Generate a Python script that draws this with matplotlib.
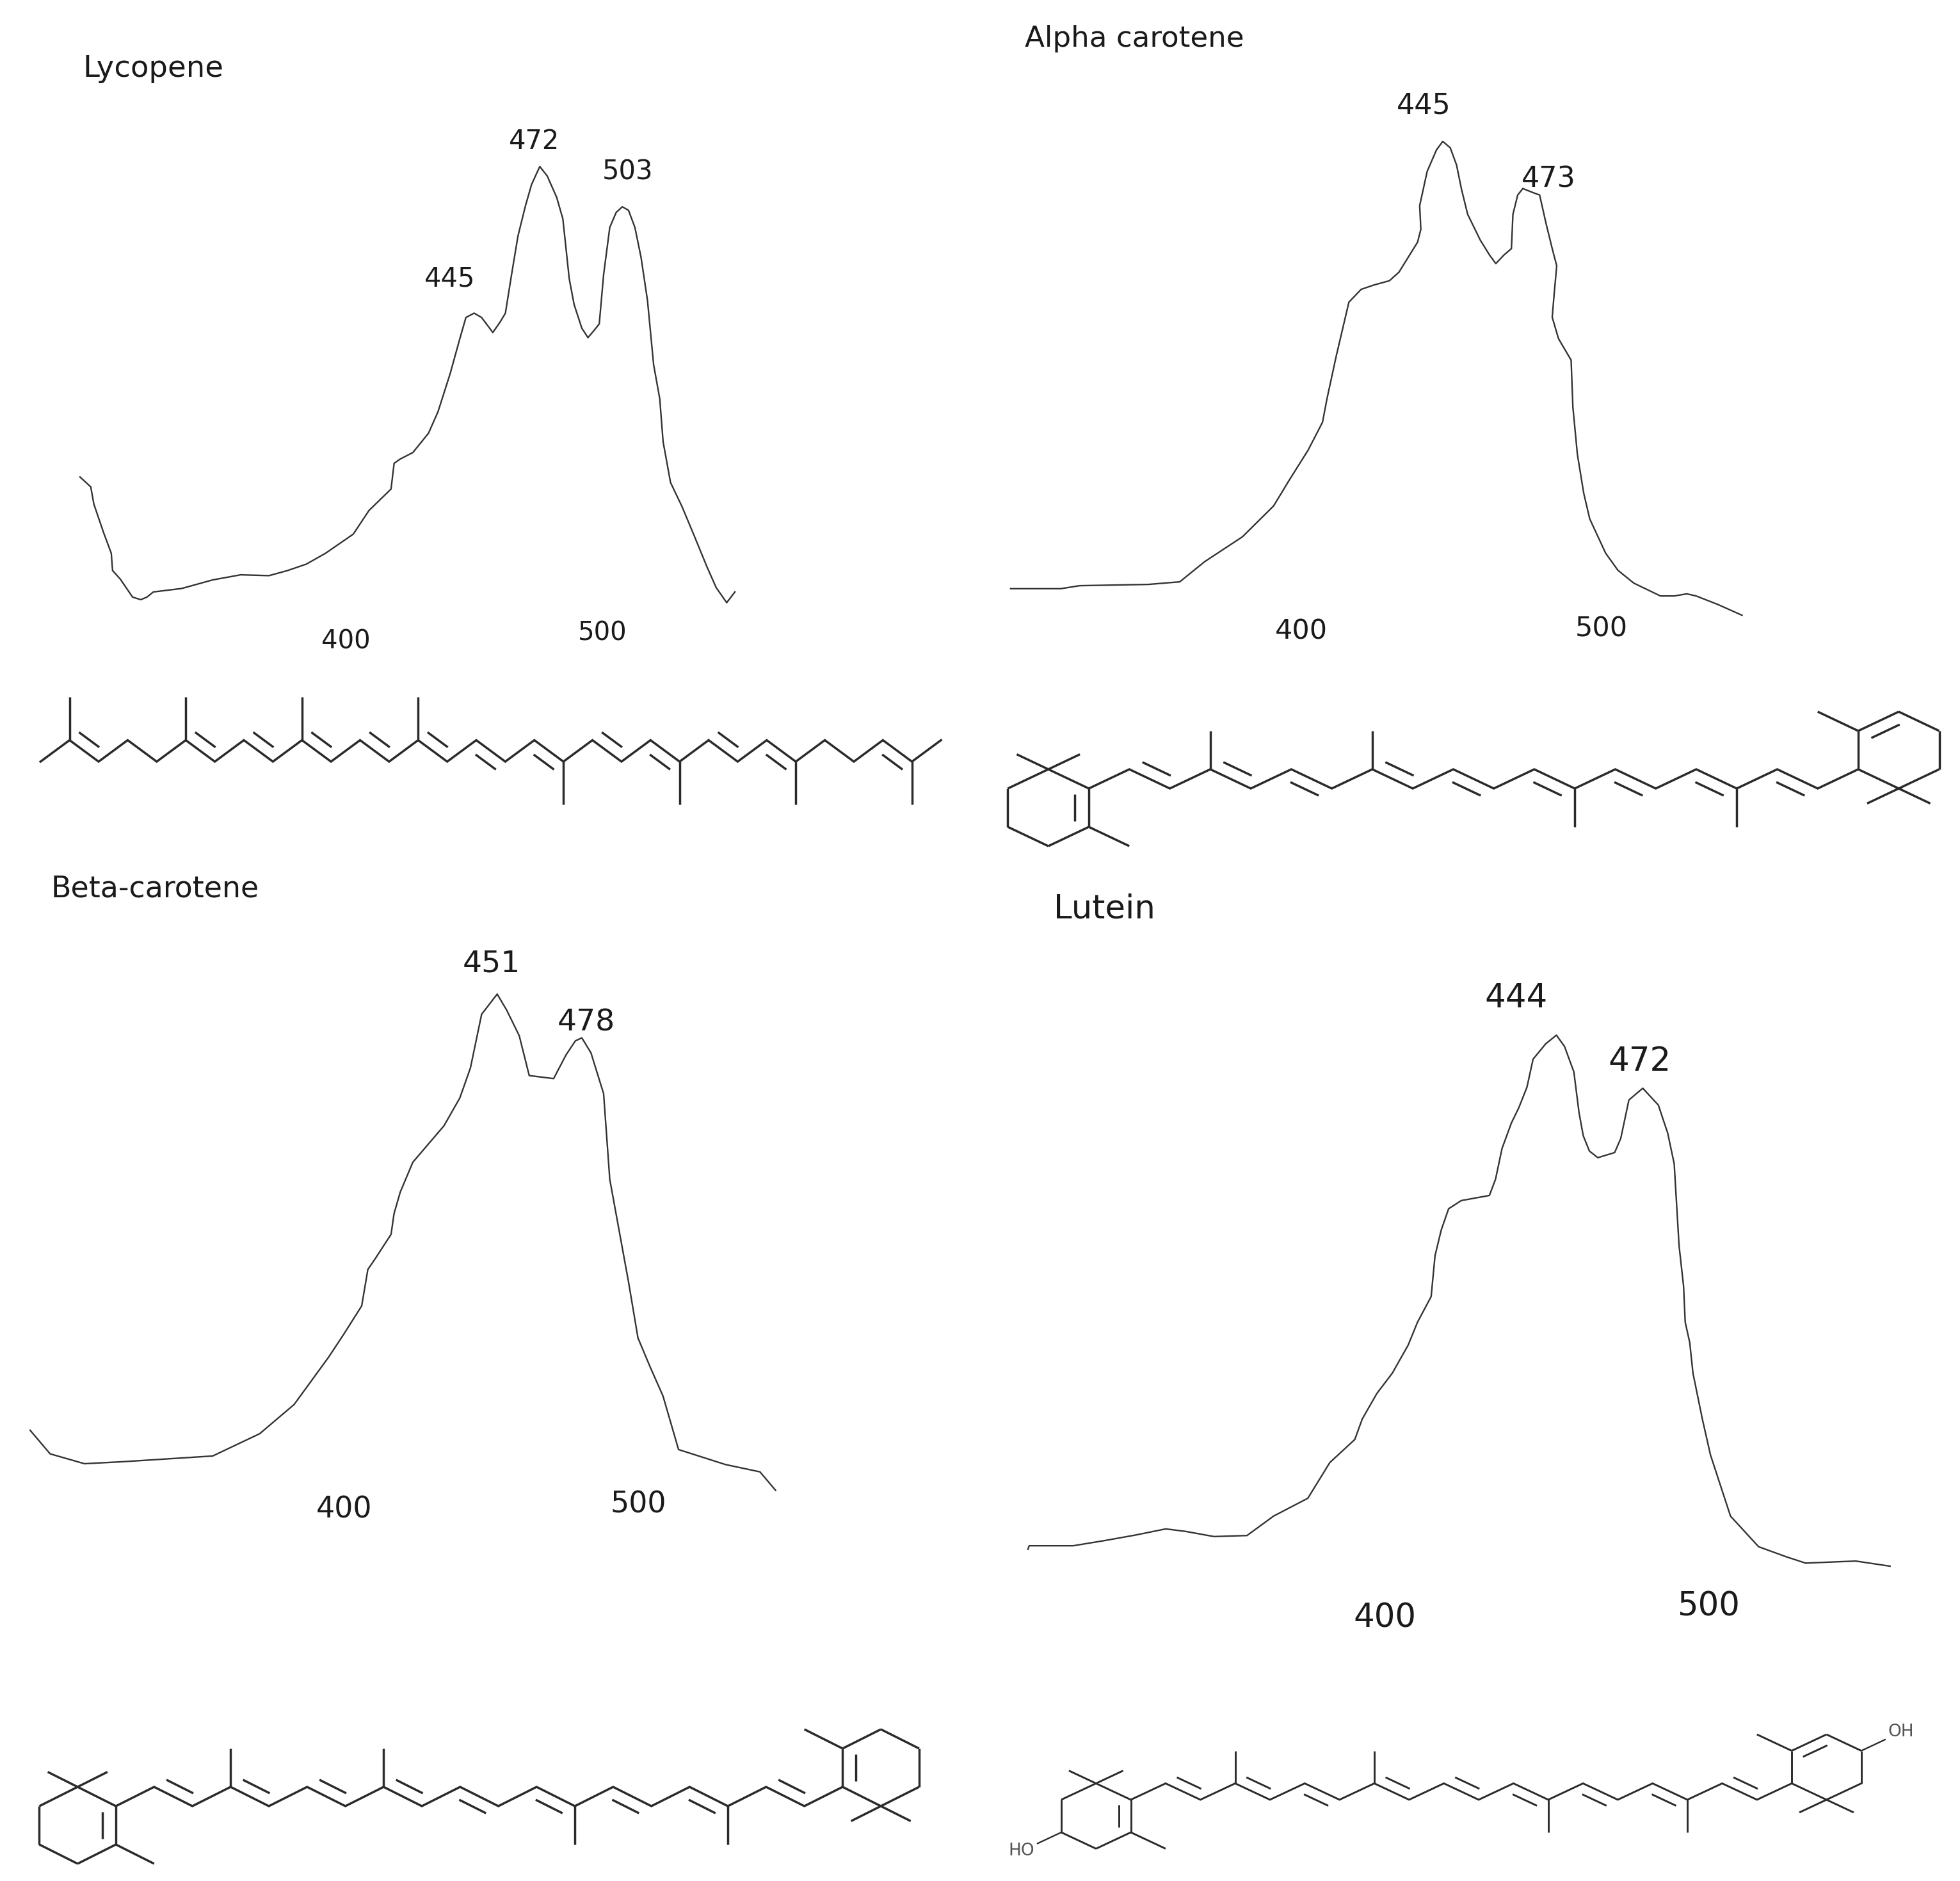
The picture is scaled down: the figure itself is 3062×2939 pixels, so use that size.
import numpy as np
import matplotlib
matplotlib.use("Agg")
import matplotlib.pyplot as plt

# ---- spectra: wavelength (nm) vs relative absorbance ----
lyc_wl = [296.3, 300.5, 301.7, 305.4, 308.5, 309.0, 312.0, 316.8, 320.0, 322.4, 324.9,
          335.9, 348.0, 359.0, 370.0, 377.3, 384.6, 392.0, 400.5, 402.9, 409.0, 417.6,
          418.8, 421.2, 426.1, 432.2, 435.9, 440.7, 444.4, 446.8, 450.0, 452.9, 457.3,
          460.2, 462.2, 464.6, 467.1, 470.0, 472.4, 475.6, 478.5, 482.2, 484.6, 487.1,
          489.0, 492.0, 494.4, 496.8, 498.8, 500.5, 502.9, 505.4, 507.8, 510.2, 512.7,
          515.1, 517.6, 520.0, 522.4, 523.7, 526.6, 531.0, 535.9, 540.7, 544.4, 548.5, 551.7]
lyc_abs = [0.288, 0.265, 0.225, 0.16, 0.11, 0.07, 0.05, 0.008, 0.002, 0.008, 0.02,
           0.028, 0.048, 0.06, 0.058, 0.07, 0.085, 0.11, 0.145, 0.155, 0.21, 0.26,
           0.32, 0.33, 0.345, 0.39, 0.44, 0.53, 0.61, 0.66, 0.67, 0.66, 0.625,
           0.65, 0.67, 0.76, 0.85, 0.92, 0.97, 1.012, 0.99, 0.94, 0.89, 0.75,
           0.69, 0.635, 0.613, 0.63, 0.645, 0.76, 0.87, 0.905, 0.918, 0.91, 0.87,
           0.80, 0.70, 0.55, 0.47, 0.37, 0.275, 0.22, 0.15, 0.08, 0.03, -0.005, 0.02]

alpha_wl = [303.1, 319.8, 326.1, 349.1, 359.5, 367.8, 380.4, 390.8, 396.0, 402.3, 407.1,
            408.6, 411.7, 415.9, 420.0, 424.2, 429.4, 432.6, 438.8, 439.9, 439.5, 442.0,
            445.1, 447.2, 449.7, 451.8, 453.4, 455.5, 459.7, 462.8, 464.9, 467.6, 470.1,
            470.6, 472.2, 473.9, 477.5, 479.5, 481.6, 483.7, 485.2, 484.3, 483.7, 485.8,
            490.0, 490.6, 492.1, 494.2, 496.2, 501.5, 505.6, 510.9, 519.8, 524.4, 528.6,
            531.7, 539.0, 547.0]
alpha_abs = [0.007, 0.007, 0.014, 0.017, 0.023, 0.07, 0.128, 0.2, 0.26, 0.33, 0.395,
             0.45, 0.55, 0.675, 0.705, 0.715, 0.725, 0.745, 0.815, 0.845, 0.90, 0.98,
             1.03, 1.05, 1.035, 0.995, 0.94, 0.88, 0.82, 0.785, 0.765, 0.785, 0.80,
             0.88, 0.925, 0.94, 0.93, 0.925, 0.86, 0.80, 0.76, 0.69, 0.64, 0.59,
             0.54, 0.43, 0.32, 0.23, 0.17, 0.09, 0.05, 0.02, -0.01, -0.01, -0.005,
             -0.01, -0.03, -0.055]

beta_wl = [293.2, 300.0, 311.7, 325.5, 355.3, 371.3, 383.0, 394.7, 400.0, 406.0, 408.1,
           410.6, 416.0, 417.0, 419.1, 423.4, 434.0, 439.4, 443.0, 446.8, 452.1, 455.3,
           459.6, 463.0, 471.3, 475.5, 478.7, 480.9, 484.0, 488.3, 490.4, 493.6, 496.8,
           500.0, 504.3, 508.5, 513.8, 529.8, 541.5, 546.8]
beta_abs = [0.065, 0.01, -0.013, -0.008, 0.005, 0.057, 0.125, 0.235, 0.29, 0.355, 0.44,
            0.465, 0.522, 0.57, 0.62, 0.69, 0.775, 0.84, 0.91, 1.035, 1.082, 1.045,
            0.985, 0.892, 0.885, 0.94, 0.973, 0.98, 0.945, 0.85, 0.65, 0.53, 0.41,
            0.28, 0.21, 0.145, 0.02, -0.015, -0.032, -0.075]

lut_wl = [289.7, 290.1, 303.7, 313.3, 323.0, 332.3, 338.5, 347.2, 357.4, 365.6, 376.2,
          383.0, 390.7, 393.0, 397.5, 402.3, 407.2, 410.1, 414.3, 415.5, 417.4, 419.7,
          423.6, 432.3, 434.2, 436.2, 439.1, 441.4, 443.9, 445.8, 449.7, 453.0, 455.5,
          458.4, 460.0, 461.3, 463.2, 465.8, 471.0, 472.9, 475.4, 479.7, 484.5, 487.4,
          489.4, 490.9, 492.3, 492.8, 494.2, 495.2, 498.1, 500.6, 506.8, 515.5, 524.2,
          530.0, 537.7, 545.5, 556.1]
lut_abs = [0.025, 0.032, 0.032, 0.042, 0.053, 0.065, 0.06, 0.05, 0.052, 0.09, 0.125,
           0.195, 0.24, 0.28, 0.33, 0.37, 0.425, 0.47, 0.52, 0.60, 0.65, 0.692,
           0.708, 0.718, 0.75, 0.81, 0.86, 0.89, 0.93, 0.985, 1.015, 1.032, 1.01,
           0.96, 0.88, 0.835, 0.805, 0.792, 0.802, 0.83, 0.905, 0.928, 0.895, 0.84,
           0.78, 0.62, 0.54, 0.47, 0.43, 0.37, 0.28, 0.21, 0.09, 0.03, 0.01,
           -0.002, 0.0, 0.002, -0.008]

titles = ["Lycopene", "Alpha carotene", "Beta-carotene", "Lutein"]
# peak labels: (text, wavelength, absorbance) where the number sits
lyc_peaks = [("472", 473.5, 1.07), ("503", 510.0, 1.0), ("445", 440.5, 0.75)]
alpha_peaks = [("445", 440.8, 1.134), ("473", 482.6, 0.962)]
beta_peaks = [("451", 450.2, 1.152), ("478", 482.3, 1.015)]
lut_peaks = [("444", 440.5, 1.104), ("472", 478.7, 0.98)]
# axis numbers drawn under each curve: (text, wavelength, absorbance)
lyc_ticks = [("400", 400, -0.096), ("500", 500, -0.077)]
alpha_ticks = [("400", 400, -0.093), ("500", 500, -0.086)]
beta_ticks = [("400", 400, -0.12), ("500", 500, -0.108)]
lut_ticks = [("400", 400, -0.11), ("500", 500, -0.088)]

# ---- structures: chain length, methyl positions, double bonds (bond i->i+1, side) ----
lyc_n = 32
lyc_me_up = [1, 5, 9, 13]
lyc_me_down = [18, 22, 26, 30]
lyc_double = [(1, 1), (5, 1), (7, 1), (9, 1), (11, 1), (13, 1), (15, -1), (17, -1),
              (19, 1), (21, -1), (23, 1), (25, -1), (29, -1)]

car_n = 20
car_me_up = [3, 7]
car_me_down = [12, 16]
alpha_double = [(1, 1), (3, 1), (5, -1), (7, 1), (9, -1), (11, -1), (13, -1), (15, -1), (17, -1)]
beta_double = [(1, 1), (3, 1), (5, 1), (7, 1), (9, -1), (11, -1), (13, -1), (15, -1), (17, 1)]
lut_double = [(1, 1), (3, 1), (5, -1), (7, 1), (9, 1), (11, -1), (13, -1), (15, -1), (17, 1)]

W, H = 3062, 2939
INK = "#2a2a2a"
C = np.sqrt(3) / 2

fig = plt.figure(figsize=(W / 100, H / 100), dpi=100)
fig.patch.set_facecolor("white")


def add_panel(rect, x_px, x_scale, y_px, y_scale, x_val=0.0):
    # rect in pixels from top-left; maps data so that x_val sits at x_px, 0 at y_px
    left, top, w, h = rect
    ax = fig.add_axes([left / W, 1 - (top + h) / H, w / W, h / H])
    ax.set_xlim(x_val + (left - x_px) / x_scale, x_val + (left + w - x_px) / x_scale)
    ax.set_ylim((y_px - (top + h)) / y_scale, (y_px - top) / y_scale)
    ax.axis("off")
    return ax


def spectrum(rect, wl, ab, peaks, ticks, x400, ppn, y0, ppu, fs_num, fs_tick):
    ax = add_panel(rect, x400, ppn, y0, ppu, x_val=400.0)
    ax.plot(wl, ab, color="#333333", lw=1.7)
    for t, x, y in peaks:
        ax.text(x, y, t, fontsize=fs_num, color="#1a1a1a", ha="center", va="center")
    for t, x, y in ticks:
        ax.text(x, y, t, fontsize=fs_tick, color="#1a1a1a", ha="center", va="center")
    return ax


def seg(ax, a, b, lw):
    ax.plot([a[0], b[0]], [a[1], b[1]], color=INK, lw=lw, solid_capstyle="butt")


def inner(ax, a, b, toward, lw, d=0.3, trim=0.15):
    a, b = np.asarray(a, float), np.asarray(b, float)
    v = b - a
    n = np.array([-v[1], v[0]]) / np.hypot(*v)
    if np.dot(n, toward) < 0:
        n = -n
    seg(ax, a + v * trim + n * d, b - v * trim + n * d, lw)


def ring(ax, a, side, kind, oh, lw):
    if side == "left":
        offs = [(0, 0), (0, -1), (-C, -1.5), (-2 * C, -1), (-2 * C, 0), (-C, 0.5)]
    else:
        offs = [(0, 0), (0, 1), (C, 1.5), (2 * C, 1), (2 * C, 0), (C, -0.5)]
    pts = np.asarray(a) + np.array(offs)
    for k in range(6):
        seg(ax, pts[k], pts[(k + 1) % 6], lw)
    cen = pts.mean(axis=0)
    seg(ax, pts[1], pts[1] + (pts[1] - cen), lw)
    for nb in (4, 0):
        seg(ax, pts[5], pts[5] + 0.78 * (pts[5] - pts[nb]), lw)
    i, j = (0, 1) if kind == "beta" else (1, 2)
    inner(ax, pts[i], pts[j], cen - (pts[i] + pts[j]) / 2, lw)
    if oh:
        out = pts[3] - cen
        seg(ax, pts[3], pts[3] + 0.7 * out, lw * 0.8)
        lab = "HO" if side == "left" else "OH"
        ax.text(*(pts[3] + 1.15 * out), lab, fontsize=19, color="#555555",
                ha="center", va="center")


def molecule(rect, origin, sx, sy, n, me_up, me_down, doubles, lw,
             rings=None, oh=False):
    ax = add_panel(rect, origin[0], sx, origin[1], sy)
    p = np.array([[i * C, 0.5 * (i % 2)] for i in range(n)])
    ax.plot(p[:, 0], p[:, 1], color=INK, lw=lw, solid_joinstyle="miter")
    for i in me_up:
        seg(ax, p[i], p[i] + (0, 1), lw)
    for i in me_down:
        seg(ax, p[i], p[i] - (0, 1), lw)
    for i, s in doubles:
        inner(ax, p[i], p[i + 1], (0, s), lw)
    if rings:
        ring(ax, p[0], "left", rings[0], oh, lw)
        ring(ax, p[-1], "right", rings[1], oh, lw)
    return ax


# spectra
spectrum((0, 0, 1531, 1040), lyc_wl, lyc_abs, lyc_peaks, lyc_ticks,
         540.4, 4.006, 938.3, 670.1, 30, 29)
spectrum((1531, 0, 1531, 1040), alpha_wl, alpha_abs, alpha_peaks, alpha_ticks,
         2032.8, 4.685, 924.5, 670.1, 32, 31)
spectrum((0, 1340, 1531, 1100), beta_wl, beta_abs, beta_peaks, beta_ticks,
         537.5, 4.592, 2278.3, 670.1, 34, 33)
spectrum((1531, 1340, 1531, 1250), lut_wl, lut_abs, lut_peaks, lut_ticks,
         2163.5, 5.056, 2440.7, 797.8, 37, 37)

# titles
for t, x, y, fs in zip(titles, [129, 1601, 79, 1646], [108, 61, 1389, 1421],
                       [33.5, 32.5, 33, 37]):
    fig.text(x / W, 1 - y / H, t, fontsize=fs, color="#1a1a1a", ha="left", va="center")

# structures
molecule((0, 1040, 1531, 300), (63.3, 1190), 52.4, 67, lyc_n, lyc_me_up, lyc_me_down,
         lyc_double, 2.5)
molecule((1531, 1040, 1531, 300), (1701, 1232), 73.05, 60, car_n, car_me_up, car_me_down,
         alpha_double, 2.5, rings=("beta", "epsilon"))
molecule((0, 2600, 1531, 339), (181, 2822), 69.0, 60, car_n, car_me_up, car_me_down,
         beta_double, 2.5, rings=("beta", "beta"))
molecule((1531, 2600, 1531, 339), (1766.6, 2812), 62.75, 51, car_n, car_me_up, car_me_down,
         lut_double, 2.1, rings=("beta", "epsilon"), oh=True)

fig.savefig("out.png", dpi=100, facecolor="white")
